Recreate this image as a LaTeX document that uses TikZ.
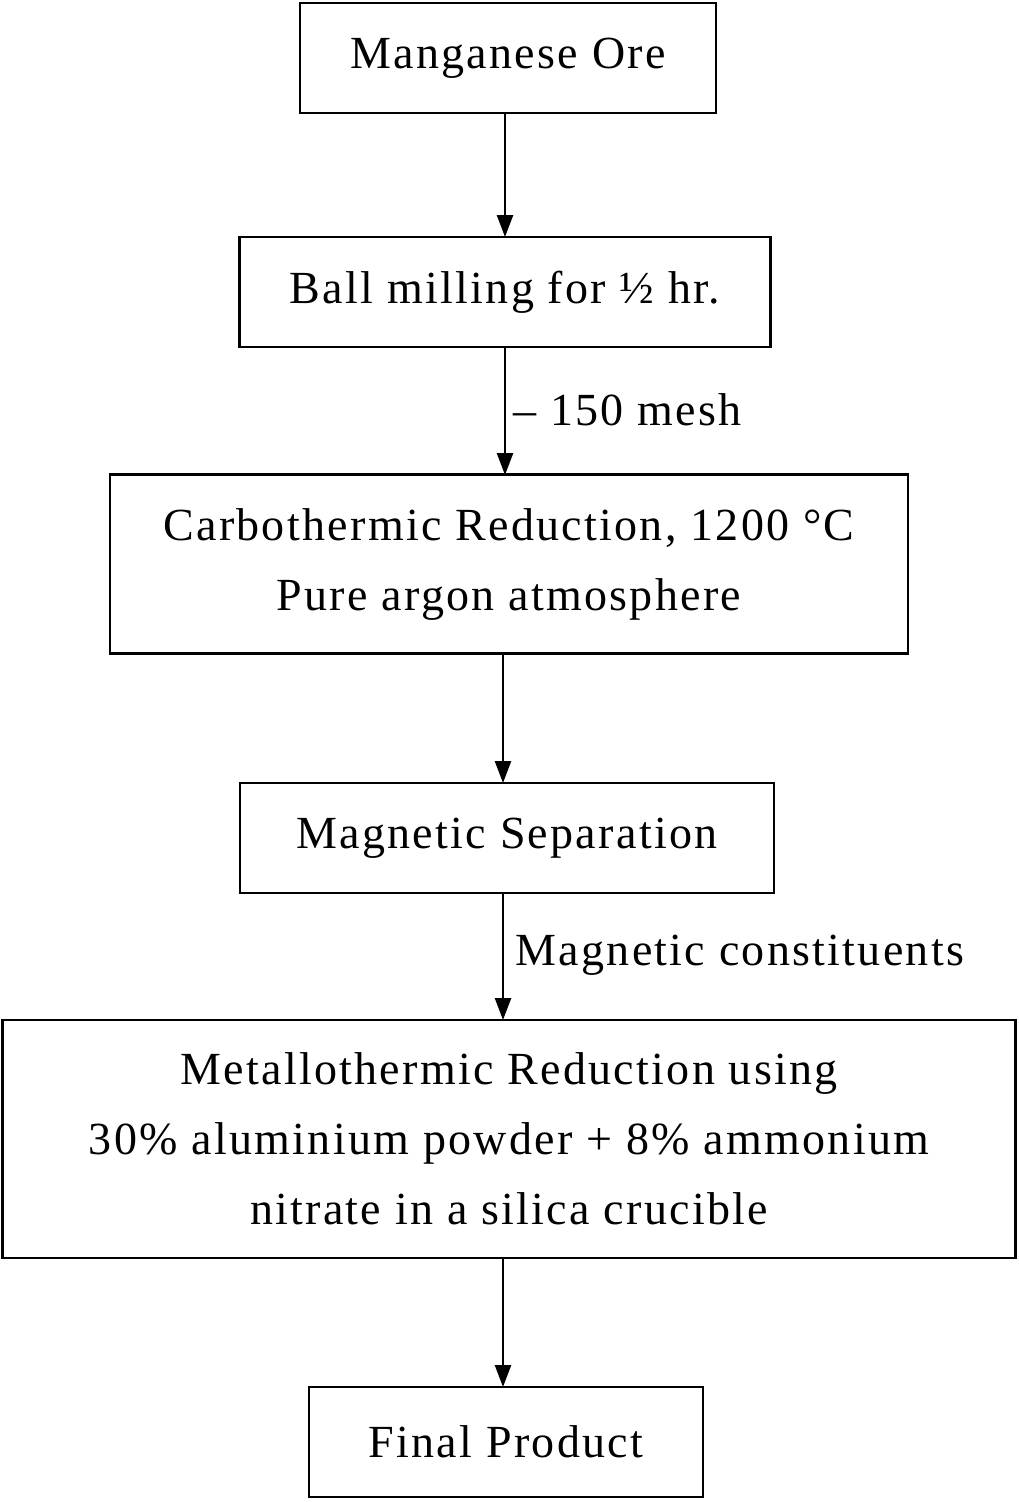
\documentclass[tikz,border=0pt]{standalone}
\usepackage{fontspec}
\setmainfont{Liberation Serif}[LetterSpace=5]
\usetikzlibrary{arrows.meta}
\begin{document}
\begin{tikzpicture}[x=1pt,y=-1pt,
  box/.style={draw,line width=2.5pt,minimum height=110pt,align=center,font=\fontsize{46}{70}\selectfont,inner sep=0pt},
  lab/.style={font=\fontsize{46}{50}\selectfont,anchor=west},
  arr/.style={line width=2.5pt,-{Triangle[length=22pt,width=16pt]}}]
\useasboundingbox (0,0) rectangle (1019,1502);
\node[box,minimum width=416pt] (a) at (508,58) {Manganese Ore};
\node[box,minimum width=531pt] (b) at (505,292) {Ball milling for ½ hr.};
\node[box,minimum width=798pt,minimum height=179pt] (c) at (509,564) {Carbothermic Reduction, 1200 °C\\Pure argon atmosphere};
\node[box,minimum width=534pt] (d) at (507,838) {Magnetic Separation};
\node[box,minimum width=1013pt,minimum height=238pt] (e) at (509,1139) {Metallothermic Reduction using\\30\% aluminium powder + 8\% ammonium\\nitrate in a silica crucible};
\node[box,minimum width=394pt] (f) at (506,1442) {Final Product};
\draw[arr] (505,113) -- (505,237);
\draw[arr] (505,348) -- (505,475);
\draw[arr] (503,654) -- (503,783);
\draw[arr] (503,893) -- (503,1020);
\draw[arr] (503,1258) -- (503,1387);
\node[lab] (l1) at (510,410) {– 150 mesh};
\node[lab] (l2) at (512,955) {Magnetic constituents};
\end{tikzpicture}
\end{document}
